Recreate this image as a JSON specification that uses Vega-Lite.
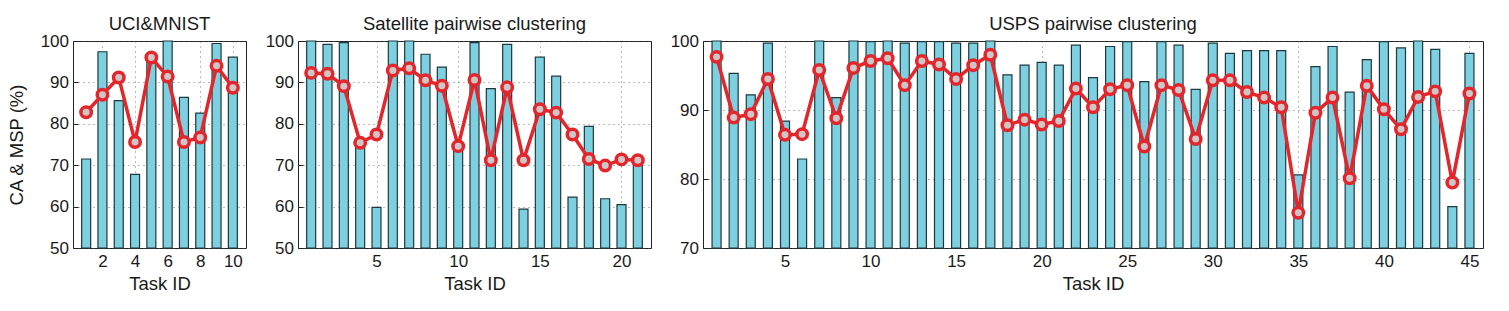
{
  "$schema": "https://vega.github.io/schema/vega-lite/v6.json",
  "padding": {"left": 6, "top": 14, "right": 5, "bottom": 5},
  "background": "white",
  "spacing": 52,
  "bounds": "flush",
  "datasets": {
    "uci": [
      {"task": 1, "bar": 71.5, "line": 82.8},
      {"task": 2, "bar": 97.4, "line": 87.0},
      {"task": 3, "bar": 85.6, "line": 91.2},
      {"task": 4, "bar": 67.8, "line": 75.6},
      {"task": 5, "bar": 95.5, "line": 96.0},
      {"task": 6, "bar": 100, "line": 91.4},
      {"task": 7, "bar": 86.4, "line": 75.6},
      {"task": 8, "bar": 82.6, "line": 76.7},
      {"task": 9, "bar": 99.4, "line": 94.0},
      {"task": 10, "bar": 96.1, "line": 88.7}
    ],
    "sat": [
      {"task": 1, "bar": 100, "line": 92.3},
      {"task": 2, "bar": 99.2, "line": 92.1},
      {"task": 3, "bar": 99.6, "line": 89.1},
      {"task": 4, "bar": 76.5, "line": 75.4},
      {"task": 5, "bar": 59.8, "line": 77.4},
      {"task": 6, "bar": 100, "line": 92.9},
      {"task": 7, "bar": 100, "line": 93.4},
      {"task": 8, "bar": 96.8, "line": 90.5},
      {"task": 9, "bar": 93.7, "line": 89.2},
      {"task": 10, "bar": 74.0, "line": 74.6},
      {"task": 11, "bar": 99.6, "line": 90.6},
      {"task": 12, "bar": 88.5, "line": 71.2},
      {"task": 13, "bar": 99.2, "line": 88.8},
      {"task": 14, "bar": 59.4, "line": 71.2},
      {"task": 15, "bar": 96.1, "line": 83.5},
      {"task": 16, "bar": 91.5, "line": 82.7},
      {"task": 17, "bar": 62.3, "line": 77.4},
      {"task": 18, "bar": 79.4, "line": 71.5},
      {"task": 19, "bar": 61.9, "line": 69.9},
      {"task": 20, "bar": 60.5, "line": 71.4},
      {"task": 21, "bar": 70.8, "line": 71.2}
    ],
    "usps": [
      {"task": 1, "bar": 100, "line": 97.7},
      {"task": 2, "bar": 95.3, "line": 88.9},
      {"task": 3, "bar": 92.2, "line": 89.4},
      {"task": 4, "bar": 99.7, "line": 94.5},
      {"task": 5, "bar": 88.4, "line": 86.4},
      {"task": 6, "bar": 82.9, "line": 86.5},
      {"task": 7, "bar": 100, "line": 95.8},
      {"task": 8, "bar": 91.8, "line": 88.8},
      {"task": 9, "bar": 100, "line": 96.1},
      {"task": 10, "bar": 99.9, "line": 97.1},
      {"task": 11, "bar": 100, "line": 97.5},
      {"task": 12, "bar": 99.7, "line": 93.6},
      {"task": 13, "bar": 99.9, "line": 97.1},
      {"task": 14, "bar": 99.9, "line": 96.6},
      {"task": 15, "bar": 99.7, "line": 94.5},
      {"task": 16, "bar": 99.7, "line": 96.5},
      {"task": 17, "bar": 100, "line": 98.0},
      {"task": 18, "bar": 95.1, "line": 87.8},
      {"task": 19, "bar": 96.5, "line": 88.6},
      {"task": 20, "bar": 96.9, "line": 87.9},
      {"task": 21, "bar": 96.5, "line": 88.4},
      {"task": 22, "bar": 99.4, "line": 93.1},
      {"task": 23, "bar": 94.7, "line": 90.4},
      {"task": 24, "bar": 99.2, "line": 93.0},
      {"task": 25, "bar": 99.9, "line": 93.6},
      {"task": 26, "bar": 94.1, "line": 84.7},
      {"task": 27, "bar": 99.9, "line": 93.6},
      {"task": 28, "bar": 99.4, "line": 92.9},
      {"task": 29, "bar": 93.0, "line": 85.8},
      {"task": 30, "bar": 99.7, "line": 94.3},
      {"task": 31, "bar": 98.2, "line": 94.3},
      {"task": 32, "bar": 98.6, "line": 92.6},
      {"task": 33, "bar": 98.6, "line": 91.8},
      {"task": 34, "bar": 98.6, "line": 90.4},
      {"task": 35, "bar": 80.6, "line": 75.1},
      {"task": 36, "bar": 96.3, "line": 89.6},
      {"task": 37, "bar": 99.2, "line": 91.8},
      {"task": 38, "bar": 92.6, "line": 80.1},
      {"task": 39, "bar": 97.3, "line": 93.5},
      {"task": 40, "bar": 99.9, "line": 90.1},
      {"task": 41, "bar": 99.0, "line": 87.2},
      {"task": 42, "bar": 100, "line": 91.9},
      {"task": 43, "bar": 98.8, "line": 92.7},
      {"task": 44, "bar": 76.0, "line": 79.5},
      {"task": 45, "bar": 98.2, "line": 92.4}
    ]
  },
  "config": {
    "font": "Liberation Sans",
    "view": {"stroke": "#222222", "strokeWidth": 1},
    "title": {"font": "Liberation Sans", "fontSize": 18.5, "fontWeight": "normal", "color": "#1a1a1a", "offset": -1, "baseline": "alphabetic", "frame": "group"},
    "axis": {
      "labelFont": "Liberation Sans", "labelFontSize": 17, "labelColor": "#1a1a1a",
      "titleFont": "Liberation Sans", "titleFontSize": 18.5, "titleFontWeight": "normal", "titleColor": "#1a1a1a",
      "domain": false,
      "ticks": true, "tickSize": -5, "tickColor": "#222222", "tickWidth": 1,
      "grid": true, "gridColor": "#555555", "gridDash": [1, 4], "gridWidth": 1, "gridOpacity": 0.8
    },
    "axisX": {"titlePadding": 5, "labelPadding": 10.5},
    "axisY": {"titlePadding": 14, "labelPadding": 9.5}
  },
  "hconcat": [
    {
      "width": 173, "height": 207,
      "title": "UCI&MNIST",
      "data": {"name": "uci"},
      "encoding": {
        "x": {"field": "task", "type": "quantitative", "title": "Task ID",
              "scale": {"domain": [0.5, 10.5], "nice": false, "zero": false},
              "axis": {"values": [2, 4, 6, 8, 10], "format": "d"}}
      },
      "layer": [
        {"mark": {"type": "bar", "width": 9, "fill": "#7ecfe0", "stroke": "#1c3a3e", "strokeWidth": 1.2},
         "encoding": {"y": {"field": "bar", "type": "quantitative", "title": "CA & MSP (%)",
                            "scale": {"domain": [50, 100], "nice": false, "zero": false},
                            "axis": {"values": [50, 60, 70, 80, 90, 100]}},
                      "y2": {"datum": 50}}},
        {"mark": {"type": "line", "color": "#e3262b", "strokeWidth": 3.5},
         "encoding": {"y": {"field": "line", "type": "quantitative", "title": "CA & MSP (%)"}}},
        {"mark": {"type": "point", "shape": "circle", "filled": true, "fill": "#cfc6c8", "stroke": "#e3262b", "strokeWidth": 3.5, "size": 110, "opacity": 1},
         "encoding": {"y": {"field": "line", "type": "quantitative", "title": "CA & MSP (%)"}}}
      ]
    },
    {
      "width": 353, "height": 207,
      "title": "Satellite pairwise clustering",
      "data": {"name": "sat"},
      "encoding": {
        "x": {"field": "task", "type": "quantitative", "title": "Task ID",
              "scale": {"domain": [0.5, 21.5], "nice": false, "zero": false},
              "axis": {"values": [5, 10, 15, 20], "format": "d"}}
      },
      "layer": [
        {"mark": {"type": "bar", "width": 9, "fill": "#7ecfe0", "stroke": "#1c3a3e", "strokeWidth": 1.2},
         "encoding": {"y": {"field": "bar", "type": "quantitative", "title": null,
                            "scale": {"domain": [50, 100], "nice": false, "zero": false},
                            "axis": {"values": [50, 60, 70, 80, 90, 100]}},
                      "y2": {"datum": 50}}},
        {"mark": {"type": "line", "color": "#e3262b", "strokeWidth": 3.5},
         "encoding": {"y": {"field": "line", "type": "quantitative", "title": null}}},
        {"mark": {"type": "point", "shape": "circle", "filled": true, "fill": "#cfc6c8", "stroke": "#e3262b", "strokeWidth": 3.5, "size": 110, "opacity": 1},
         "encoding": {"y": {"field": "line", "type": "quantitative", "title": null}}}
      ]
    },
    {
      "width": 780, "height": 207,
      "title": "USPS pairwise clustering",
      "data": {"name": "usps"},
      "encoding": {
        "x": {"field": "task", "type": "quantitative", "title": "Task ID",
              "scale": {"domain": [0.5, 45.5], "nice": false, "zero": false},
              "axis": {"values": [5, 10, 15, 20, 25, 30, 35, 40, 45], "format": "d"}}
      },
      "layer": [
        {"mark": {"type": "bar", "width": 9, "fill": "#7ecfe0", "stroke": "#1c3a3e", "strokeWidth": 1.2},
         "encoding": {"y": {"field": "bar", "type": "quantitative", "title": null,
                            "scale": {"domain": [70, 100], "nice": false, "zero": false},
                            "axis": {"values": [70, 80, 90, 100]}},
                      "y2": {"datum": 70}}},
        {"mark": {"type": "line", "color": "#e3262b", "strokeWidth": 3.5},
         "encoding": {"y": {"field": "line", "type": "quantitative", "title": null}}},
        {"mark": {"type": "point", "shape": "circle", "filled": true, "fill": "#cfc6c8", "stroke": "#e3262b", "strokeWidth": 3.5, "size": 110, "opacity": 1},
         "encoding": {"y": {"field": "line", "type": "quantitative", "title": null}}}
      ]
    }
  ]
}
